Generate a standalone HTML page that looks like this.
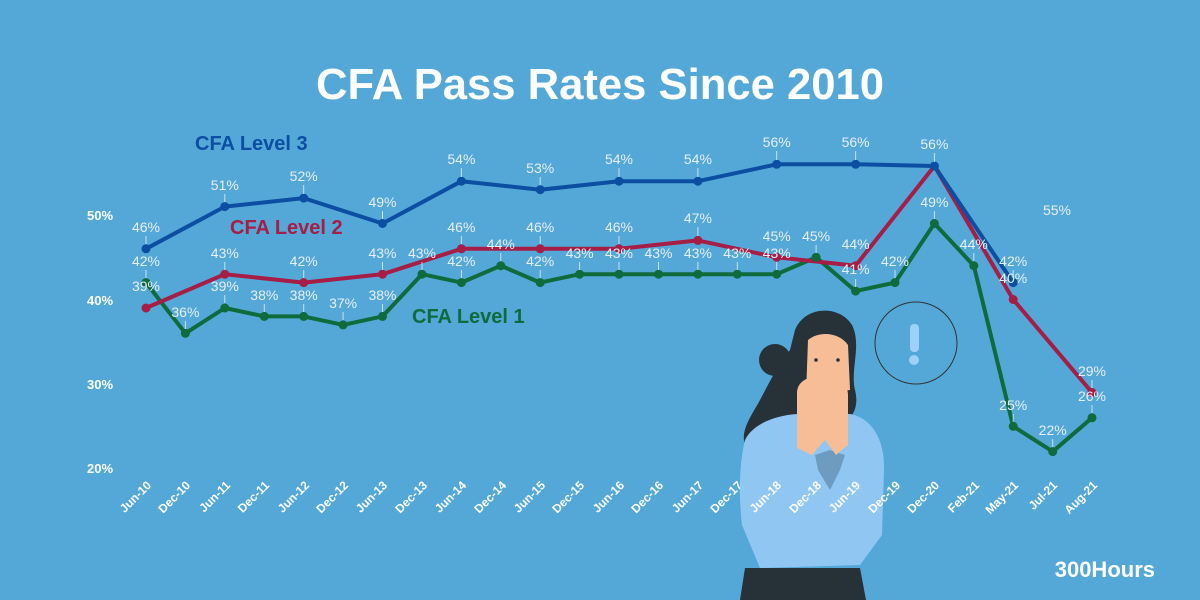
<!DOCTYPE html>
<html><head><meta charset="utf-8"><style>
html,body{margin:0;padding:0;}
body{width:1200px;height:600px;overflow:hidden;background:#53a8d7;}
svg{display:block;font-family:"Liberation Sans",sans-serif;}
.l{fill:#e6eef6;font-size:14px;text-anchor:middle;}
.ax{fill:#fff;font-size:13px;font-weight:bold;}
.xl{fill:#fff;font-size:12px;font-weight:bold;text-anchor:end;}
</style></head><body>
<svg width="1200" height="600" viewBox="0 0 1200 600">
<rect width="1200" height="600" fill="#53a8d7"/>
<text x="316" y="99" textLength="568" lengthAdjust="spacingAndGlyphs" fill="#fff" font-size="44" font-weight="bold">CFA Pass Rates Since 2010</text>
<text class="ax" x="87" y="220">50%</text>
<text class="ax" x="87" y="305">40%</text>
<text class="ax" x="87" y="389">30%</text>
<text class="ax" x="87" y="473">20%</text>

<text x="195" y="150" fill="#0b4ea2" font-size="20" font-weight="bold">CFA Level 3</text>
<text x="230" y="234" fill="#a61d45" font-size="20" font-weight="bold">CFA Level 2</text>
<text x="412" y="323" fill="#0f6b3c" font-size="20" font-weight="bold">CFA Level 1</text>

<!-- woman -->
<g>
<path d="M795 330 C805 305 840 305 852 325 C862 345 850 370 855 390 C860 410 850 420 840 425 L780 430 C770 440 760 448 745 445 C740 430 752 415 760 400 C768 385 775 370 790 350Z" fill="#263238"/>
<circle cx="775" cy="360" r="16" fill="#263238"/>
<path d="M808 340 C820 330 840 333 848 345 L850 390 L806 395 Z" fill="#f7bd97"/>
<path d="M745 440 C755 420 785 414 800 414 L850 414 C872 418 885 440 884 470 L882 535 L860 565 L760 568 L742 525 C738 490 740 460 745 440Z" fill="#90c6f2"/>
<path d="M815 455 L830 450 L845 455 L840 470 L830 490 L818 470Z" fill="#6e9cc0"/>
<path d="M797 392 C798 380 810 375 825 378 C840 375 848 385 848 395 L848 445 L836 455 L825 440 L812 455 L797 448 Z" fill="#f7bd97"/>
<path d="M745 568 L860 568 L866 600 L740 600Z" fill="#263238"/>
<circle cx="816" cy="360" r="1.8" fill="#263238"/><circle cx="838" cy="360" r="1.8" fill="#263238"/>
<circle cx="916" cy="343" r="41" fill="none" stroke="#333" stroke-width="1"/>
<rect x="910" y="324" width="9" height="28" rx="4" fill="#9fd0f7"/>
<circle cx="914" cy="360" r="5" fill="#9fd0f7"/>
</g>

<!-- x labels -->
<g>
<text class="xl" transform="translate(152,486) rotate(-45)">Jun-10</text>
<text class="xl" transform="translate(191,486) rotate(-45)">Dec-10</text>
<text class="xl" transform="translate(231,486) rotate(-45)">Jun-11</text>
<text class="xl" transform="translate(270,486) rotate(-45)">Dec-11</text>
<text class="xl" transform="translate(310,486) rotate(-45)">Jun-12</text>
<text class="xl" transform="translate(349,486) rotate(-45)">Dec-12</text>
<text class="xl" transform="translate(388,486) rotate(-45)">Jun-13</text>
<text class="xl" transform="translate(428,486) rotate(-45)">Dec-13</text>
<text class="xl" transform="translate(467,486) rotate(-45)">Jun-14</text>
<text class="xl" transform="translate(507,486) rotate(-45)">Dec-14</text>
<text class="xl" transform="translate(546,486) rotate(-45)">Jun-15</text>
<text class="xl" transform="translate(585,486) rotate(-45)">Dec-15</text>
<text class="xl" transform="translate(625,486) rotate(-45)">Jun-16</text>
<text class="xl" transform="translate(664,486) rotate(-45)">Dec-16</text>
<text class="xl" transform="translate(704,486) rotate(-45)">Jun-17</text>
<text class="xl" transform="translate(743,486) rotate(-45)">Dec-17</text>
<text class="xl" transform="translate(782,486) rotate(-45)">Jun-18</text>
<text class="xl" transform="translate(822,486) rotate(-45)">Dec-18</text>
<text class="xl" transform="translate(861,486) rotate(-45)">Jun-19</text>
<text class="xl" transform="translate(901,486) rotate(-45)">Dec-19</text>
<text class="xl" transform="translate(940,486) rotate(-45)">Dec-20</text>
<text class="xl" transform="translate(980,486) rotate(-45)">Feb-21</text>
<text class="xl" transform="translate(1019,486) rotate(-45)">May-21</text>
<text class="xl" transform="translate(1058,486) rotate(-45)">Jul-21</text>
<text class="xl" transform="translate(1098,486) rotate(-45)">Aug-21</text>
</g>

<!-- series lines -->
<g fill="none" stroke-width="4" stroke-linejoin="round">
<polyline stroke="#0f6b3c" points="146,282.6 185.4,333.3 224.8,308 264.3,316.4 303.7,316.4 343.1,324.9 382.5,316.4 422,274.2 461.4,282.6 500.8,265.7 540.2,282.6 579.6,274.2 619,274.2 658.5,274.2 697.9,274.2 737.3,274.2 776.7,274.2 816.1,257.3 855.6,291.1 895,282.6 934.4,223.5 973.8,265.7 1013.2,426.3 1052.7,451.6 1092,417.8"/>
<polyline stroke="#a61d45" points="146,308 224.8,274.2 303.7,282.6 382.5,274.2 461.4,248.8 540.2,248.8 619,248.8 697.9,240.4 776.7,257.3 855.6,265.7 934.4,166 1013.2,299.5 1092,392.5"/>
<polyline stroke="#0b4ea2" points="146,248.8 224.8,206.6 303.7,198.1 382.5,223.5 461.4,181.2 540.2,189.7 619,181.2 697.9,181.2 776.7,164.3 855.6,164.3 934.4,166 1013.2,282.6"/>
</g>
<g fill="#0f6b3c">
<circle cx="146" cy="282.6" r="4.5"/><circle cx="185.4" cy="333.3" r="4.5"/><circle cx="224.8" cy="308" r="4.5"/><circle cx="264.3" cy="316.4" r="4.5"/><circle cx="303.7" cy="316.4" r="4.5"/><circle cx="343.1" cy="324.9" r="4.5"/><circle cx="382.5" cy="316.4" r="4.5"/><circle cx="422" cy="274.2" r="4.5"/><circle cx="461.4" cy="282.6" r="4.5"/><circle cx="500.8" cy="265.7" r="4.5"/><circle cx="540.2" cy="282.6" r="4.5"/><circle cx="579.6" cy="274.2" r="4.5"/><circle cx="619" cy="274.2" r="4.5"/><circle cx="658.5" cy="274.2" r="4.5"/><circle cx="697.9" cy="274.2" r="4.5"/><circle cx="737.3" cy="274.2" r="4.5"/><circle cx="776.7" cy="274.2" r="4.5"/><circle cx="816.1" cy="257.3" r="4.5"/><circle cx="855.6" cy="291.1" r="4.5"/><circle cx="895" cy="282.6" r="4.5"/><circle cx="934.4" cy="223.5" r="4.5"/><circle cx="973.8" cy="265.7" r="4.5"/><circle cx="1013.2" cy="426.3" r="4.5"/><circle cx="1052.7" cy="451.6" r="4.5"/><circle cx="1092" cy="417.8" r="4.5"/>
</g>
<g fill="#a61d45">
<circle cx="146" cy="308" r="4.5"/><circle cx="224.8" cy="274.2" r="4.5"/><circle cx="303.7" cy="282.6" r="4.5"/><circle cx="382.5" cy="274.2" r="4.5"/><circle cx="461.4" cy="248.8" r="4.5"/><circle cx="540.2" cy="248.8" r="4.5"/><circle cx="619" cy="248.8" r="4.5"/><circle cx="697.9" cy="240.4" r="4.5"/><circle cx="776.7" cy="257.3" r="4.5"/><circle cx="855.6" cy="265.7" r="4.5"/><circle cx="1013.2" cy="299.5" r="4.5"/><circle cx="1092" cy="392.5" r="4.5"/>
</g>
<g fill="#0b4ea2">
<circle cx="146" cy="248.8" r="4.5"/><circle cx="224.8" cy="206.6" r="4.5"/><circle cx="303.7" cy="198.1" r="4.5"/><circle cx="382.5" cy="223.5" r="4.5"/><circle cx="461.4" cy="181.2" r="4.5"/><circle cx="540.2" cy="189.7" r="4.5"/><circle cx="619" cy="181.2" r="4.5"/><circle cx="697.9" cy="181.2" r="4.5"/><circle cx="776.7" cy="164.3" r="4.5"/><circle cx="855.6" cy="164.3" r="4.5"/><circle cx="934.4" cy="166" r="4.5"/><circle cx="1013.2" cy="282.6" r="4.5"/>
</g>

<g class="l">
<text x="146" y="266">42%</text><text x="185.4" y="317">36%</text><text x="224.8" y="291">39%</text><text x="264.3" y="300">38%</text><text x="303.7" y="300">38%</text><text x="343.1" y="308">37%</text><text x="382.5" y="300">38%</text><text x="422" y="258">43%</text><text x="461.4" y="266">42%</text><text x="500.8" y="249">44%</text><text x="540.2" y="266">42%</text><text x="579.6" y="258">43%</text><text x="619" y="258">43%</text><text x="658.5" y="258">43%</text><text x="697.9" y="258">43%</text><text x="737.3" y="258">43%</text><text x="776.7" y="258">43%</text><text x="816.1" y="241">45%</text><text x="855.6" y="274">41%</text><text x="895" y="266">42%</text><text x="934.4" y="207">49%</text><text x="973.8" y="249">44%</text><text x="1013.2" y="410">25%</text><text x="1052.7" y="435">22%</text><text x="1092" y="401">26%</text>
<text x="146" y="291">39%</text><text x="224.8" y="258">43%</text><text x="303.7" y="266">42%</text><text x="382.5" y="258">43%</text><text x="461.4" y="232">46%</text><text x="540.2" y="232">46%</text><text x="619" y="232">46%</text><text x="697.9" y="223">47%</text><text x="776.7" y="241">45%</text><text x="855.6" y="249">44%</text><text x="1013.2" y="283">40%</text><text x="1092" y="376">29%</text>
<text x="146" y="232">46%</text><text x="224.8" y="190">51%</text><text x="303.7" y="181">52%</text><text x="382.5" y="207">49%</text><text x="461.4" y="164">54%</text><text x="540.2" y="173">53%</text><text x="619" y="164">54%</text><text x="697.9" y="164">54%</text><text x="776.7" y="147">56%</text><text x="855.6" y="147">56%</text><text x="934.4" y="149">56%</text><text x="1013.2" y="266">42%</text>
<text x="1057" y="215">55%</text>
</g>
<g stroke="#e6eef6" stroke-width="1" opacity="0.8">
<path d="M146 270V278M185.4 321V329M224.8 295V303M264.3 304V312M303.7 304V312M343.1 312V320M382.5 304V312M422 262V270M461.4 270V278M500.8 253V261M540.2 270V278M579.6 262V270M619 262V270M658.5 262V270M697.9 262V270M737.3 262V270M776.7 262V270M816.1 245V253M855.6 279V287M895 270V278M934.4 211V219M973.8 253V261M1013.2 414V422M1052.7 439V447M1092 405V413"/>
<path d="M146 236V244M224.8 194V202M303.7 185V194M382.5 211V219M461.4 168V177M540.2 177V185M619 168V177M697.9 168V177M776.7 151V160M855.6 151V160M934.4 153V162M1013.2 270V278M224.8 262V270M303.7 270V278M382.5 262V270M461.4 236V244M540.2 236V244M619 236V244M697.9 227V236M1092 380V388"/>
</g>

<text x="1155" y="577" text-anchor="end" fill="#fff" font-size="22" font-weight="bold">300Hours</text>
</svg>
</body></html>
